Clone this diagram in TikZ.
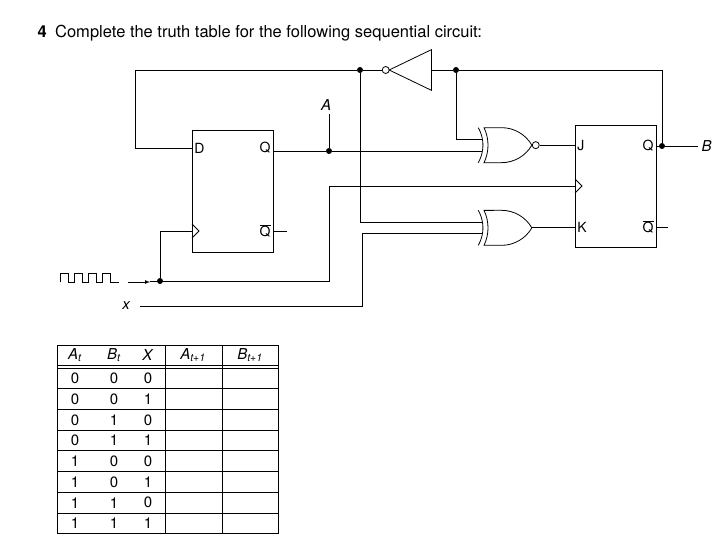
\documentclass[tikz,border=0pt]{standalone}
\usepackage{fontspec}
\setmainfont{TeX Gyre Heros}
\usetikzlibrary{circuits.logic.US,positioning}
\newcommand{\sub}[2]{\textit{#1}\textsubscript{\textit{#2}}}
\begin{document}
\begin{tikzpicture}[x=1pt,y=-1pt,circuit logic US,
	line width=0.8pt,
	ff/.style = {draw, line width=0.8pt, minimum width=81pt, inner sep=0pt},
	pin/.style = {font=\fontsize{14}{16}\selectfont, inner sep=2pt},
	lbl/.style = {font=\fontsize{15}{17}\selectfont\itshape},
	dot/.style = {circle, fill, inner sep=0pt, minimum size=6pt},
	gate/.style = {circuit symbol unit=14pt, inputs=nn},
	cell/.style = {font=\fontsize{15}{17}\selectfont, inner sep=0pt}
	]
	\useasboundingbox (0,0) rectangle (725,548);
	% title
	\node[anchor=west, font=\fontsize{16.5}{18}\selectfont] (title) at (34,33) {\textbf{4}\enspace Complete the truth table for the following sequential circuit:};
	% flip-flops
	\node[ff, minimum height=122pt, anchor=north west] (dff) at (192,130) {};
	\node[ff, minimum height=122pt, anchor=north west] (jkff) at (575,125) {};
	\node[pin, anchor=west] (dD) at (192,148) {D};
	\node[pin, anchor=east] (dQ) at (273,148) {Q};
	\node[pin, anchor=east] (dQn) at (273,231) {$\overline{\mbox{Q}}$};
	\node[pin, anchor=west] (jJ) at (575,146) {J};
	\node[pin, anchor=west] (jK) at (575,227) {K};
	\node[pin, anchor=east] (jQ) at (656,146) {Q};
	\node[pin, anchor=east] (jQn) at (656,227) {$\overline{\mbox{Q}}$};
	\draw (192,224) -- (199,231) -- (192,238);
	\draw (575,179) -- (582,186) -- (575,193);
	% gates
	\node[xnor gate, gate, anchor=input 2] (xn) at (482,151) {};
	\node[xor gate, gate, anchor=input 1] (xo) at (482,222) {};
	\node[not gate, circuit symbol unit=14pt, rotate=180] (inv) at (417,70) {};
	% points
	\coordinate (tl) at (135,70);
	\node[dot] (d1) at (360,70) {};
	\node[dot] (d2) at (456,70) {};
	\coordinate (tr) at (662,70);
	\node[dot] (dB) at (662,146) {};
	\node[dot] (dA) at (329,151) {};
	\node[dot] (dc) at (160,281) {};
	\node[lbl] (lA) at (326,105) {A};
	\node[lbl, anchor=west] (lB) at (698,146) {B};
	\node[lbl] (lX) at (126,306) {x};
	\coordinate (cs) at (150,281);
	\coordinate (xs) at (140,306);
	\coordinate (xc) at (362,306);
	\coordinate (cc) at (329,281);
	% clock symbol
	\draw[line width=0.7pt] (60,282) -- ++(0,-9) -- ++(8,0) -- ++(0,9) -- ++(6,0) -- ++(0,-9) -- ++(8,0) -- ++(0,9) -- ++(6,0) -- ++(0,-9) -- ++(8,0) -- ++(0,9) -- ++(6,0) -- ++(0,-9) -- ++(8,0) -- ++(0,9) -- ++(9,0);
	\draw[-latex, line width=0.7pt] (128,282) -- (cs |- 0,282);
	% wires
	\draw (dD.west) -- (tl |- dD.west) -- (tl) -- (d1) -- (inv.output);
	\draw (inv.input) -- (d2) -- (tr) -- (dB);
	\draw (jQ.east) -- (dB) -- (lB.west);
	\draw (dQ.east |- dA) -- (dA) -- (xn.input 2);
	\draw (dA) -- (dA |- lA.south);
	\draw (d2) -- (d2 |- xn.input 1) -- (xn.input 1);
	\draw (xn.output) -- (jkff.west |- xn.output);
	\draw (xo.output) -- (jkff.west |- xo.output);
	\draw (d1) -- (d1 |- xo.input 1) -- (xo.input 1);
	\draw (xs) -- (xc) -- (xc |- xo.input 2) -- (xo.input 2);
	\draw (cs) -- (dc) -- (cc) -- (cc |- jkff.west) -- (jkff.west);
	\draw (dc) -- (dc |- dQn) -- (dff.west |- dQn);
	\draw (dQn.east) -- ++(14,0);
	\draw (jQn.east) -- ++(12,0);
	% truth table
	\draw (57,345) rectangle (278,533);
	\draw (165,345) -- (165,533);
	\draw (222,345) -- (222,533);
	\draw (57,365) -- (278,365);
	\foreach \i in {0,...,7}
		\draw (57,368+20.7*\i) -- (278,368+20.7*\i);
	\node[cell] (hA) at (75,355) {\sub{A}{t}};
	\node[cell] (hB) at (114,355) {\sub{B}{t}};
	\node[cell] (hX) at (148,355) {\textit{X}};
	\node[cell] (hA1) at (193,355) {\sub{A}{t+1}};
	\node[cell] (hB1) at (250,355) {\sub{B}{t+1}};
	\foreach \a/\b/\x [count=\i from 0] in {0/0/0,0/0/1,0/1/0,0/1/1,1/0/0,1/0/1,1/1/0,1/1/1} {
		\node[cell] (ra\i) at (75,378.5+20.7*\i) {\a};
		\node[cell] (rb\i) at (114,378.5+20.7*\i) {\b};
		\node[cell] (rx\i) at (148,378.5+20.7*\i) {\x};
	}
\end{tikzpicture}
\end{document}
